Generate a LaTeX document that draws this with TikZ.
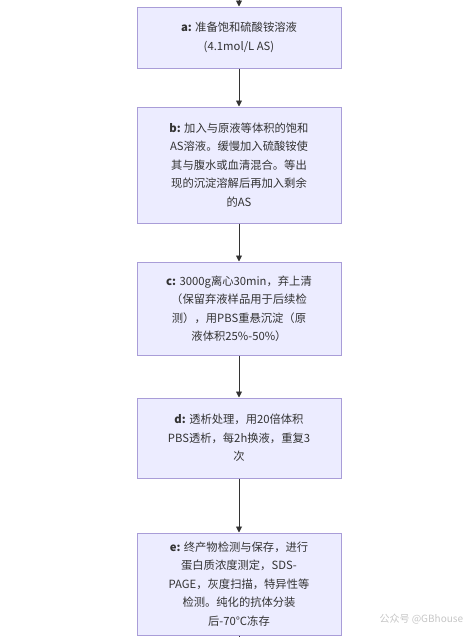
\documentclass[tikz,border=0pt]{standalone}
\usepackage{fontspec}
\newfontfamily\cjk{Noto Sans CJK SC}
\usepackage{tikz}
\usetikzlibrary{arrows.meta}
\definecolor{boxfill}{HTML}{ECECFF}
\definecolor{boxline}{HTML}{A99DD8}
\definecolor{ink}{HTML}{333333}
\tikzset{
  stage/.style={draw=boxline, fill=boxfill, line width=1pt, align=center,
    text=ink, minimum width=204pt, inner sep=0pt,
    font=\cjk\fontsize{11.3}{18.5}\selectfont},
  flow/.style={-{Triangle[length=6pt,width=6pt]}, draw=ink, line width=0.9pt},
  wmark/.style={text=gray!45, font=\cjk\fontsize{10}{12}\selectfont}
}

\begin{document}
\begin{tikzpicture}
  \useasboundingbox (0,0) rectangle (474pt,-637pt);
  \coordinate (top) at (239pt,0pt);
  \coordinate (bot) at (239pt,-637pt);
  \node[stage, minimum height=61pt] (a) at (239pt,-37.5pt)
    {\textbf{a:} 准备饱和硫酸铵溶液\\(4.1mol/L AS)};
  \node[stage, minimum height=116pt] (b) at (239pt,-165pt)
    {\textbf{b:} 加入与原液等体积的饱和\\AS溶液。缓慢加入硫酸铵使\\其与腹水或血清混合。等出\\现的沉淀溶解后再加入剩余\\的AS};
  \node[stage, minimum height=93pt] (c) at (239pt,-308.5pt)
    {\textbf{c:} 3000g离心30min，弃上清\\（保留弃液样品用于后续检\\测），用PBS重悬沉淀（原\\液体积25\%-50\%）};
  \node[stage, minimum height=80pt] (d) at (239pt,-438pt)
    {\textbf{d:} 透析处理，用20倍体积\\PBS透析，每2h换液，重复3\\次};
  \node[stage, minimum height=102pt] (e) at (239pt,-584pt)
    {\textbf{e:} 终产物检测与保存，进行\\蛋白质浓度测定，SDS-\\PAGE，灰度扫描，特异性等\\检测。纯化的抗体分装\\后-70℃冻存};
  \draw[flow] (top) -- (a);
  \draw[flow] (a) -- (b);
  \draw[flow] (b) -- (c);
  \draw[flow] (c) -- (d);
  \draw[flow] (d) -- (e);
  \draw[draw=ink, line width=0.9pt] (e) -- (bot);
  \node[wmark, anchor=west] (wm) at (376pt,-619pt) {公众号 @GBhouse};
\end{tikzpicture}
\end{document}
